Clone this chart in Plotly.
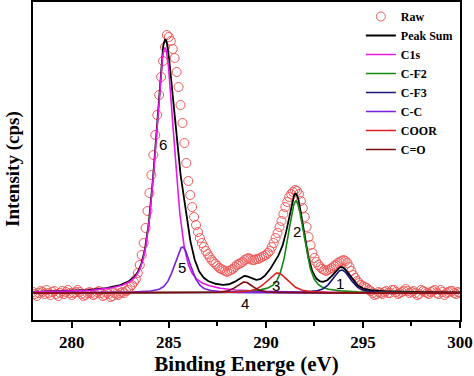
import numpy as np
import plotly.graph_objects as go

# ---- data (intensity in arbitrary cps units, baseline = 0) ----
raw_energy = [round(278.0 + 0.1 * i, 1) for i in range(221)]
raw_intensity = [
    1, -1, -3, 0, 2, 1, -1, 3, 0, -2,            # 278.0
    1, 2, -1, -3, 0, 2, -1, 1, 3, 0,             # 279.0
    -2, 0, 1, 3, 1, -1, -3, -2, 0, 1,            # 280.0
    0, -2, -1, 1, 2, 0, -3, -2, 0, -1,           # 281.0
    -4, -3, 0, -1, -2, 0, 1, 0, 2, 3,            # 282.0
    6, 8, 11, 14, 20, 28, 38, 50, 65, 82,        # 283.0
    100, 118, 138, 158, 178, 198, 216, 232, 246, 258,   # 284.0
    256, 252, 244, 235, 221, 206, 188, 170, 150, 130,   # 285.0
    112, 98, 86, 76, 68, 61, 55, 50, 46, 42,     # 286.0
    39, 36, 33, 31, 29, 27, 25, 24, 23, 22,      # 287.0
    21, 22, 23, 24, 26, 28, 29, 30, 31, 33,      # 288.0
    34, 35, 34, 33, 33, 34, 34, 35, 36, 37,      # 289.0
    38, 40, 42, 46, 50, 55, 60, 66, 72, 79,      # 290.0
    86, 91, 96, 99, 101, 103, 102, 99, 92, 85,   # 291.0
    76, 66, 56, 48, 40, 35, 31, 28, 26, 24,      # 292.0
    23, 22, 23, 24, 25, 27, 28, 30, 31, 32,      # 293.0
    33, 32, 30, 26, 22, 18, 15, 12, 10, 8,       # 294.0
    7, 6, 5, 3, 2, 0, -2, -1, 1, 0,              # 295.0
    -1, 1, 2, 0, 0, 3, 3, 1, -1, 0,              # 296.0
    1, 2, 4, 2, 0, 1, 2, 0, -2, -1,              # 297.0
    3, 2, 1, 0, -1, 1, 2, 3, 0, -1,              # 298.0
    3, 1, -2, 0, 1, 2, 2, 0, -1, 1,              # 299.0
    0,                                           # 300.0
]

peak_names = ["C1s", "C-F2", "C-F3", "C-C", "COOR", "C=O"]
peak_centers = [284.8, 291.55, 293.9, 285.7, 290.6, 288.9]
peak_heights = [245, 92, 23, 46, 20, 11]
peak_fwhm = [1.15, 1.0, 1.1, 1.0, 1.3, 1.0]
peak_colors = ["#e619e6", "#138a13", "#14147a", "#7a1fe0", "#e01f1f", "#7a0f0f"]

label_texts = ["6", "5", "4", "3", "2", "1"]
label_x = [284.7, 285.7, 288.93, 290.5, 291.6, 293.8]
label_y = [149, 26, -10, 8, 62, 10]

eta = 0.5  # Lorentzian fraction of the pseudo-Voigt fit


def pvoigt(x, c, h, w):
    lor = 1.0 / (1.0 + ((x - c) / (w / 2.0)) ** 2)
    gau = np.exp(-4.0 * np.log(2.0) * ((x - c) / w) ** 2)
    return h * (eta * lor + (1 - eta) * gau)


xs = np.linspace(278, 300, 881)
comps = [pvoigt(xs, c, h, w) for c, h, w in zip(peak_centers, peak_heights, peak_fwhm)]
peak_sum = np.sum(comps, axis=0)

FONT = "Liberation Serif"

fig = go.Figure()
fig.add_trace(go.Scatter(
    x=raw_energy, y=raw_intensity, mode="markers", name="Raw",
    marker=dict(symbol="circle-open", size=9, color="#f25a5a", line=dict(width=1, color="#f25a5a")),
))
fig.add_trace(go.Scatter(x=xs, y=peak_sum, mode="lines", name="Peak Sum",
                         line=dict(color="black", width=1.8)))
for name, comp, col in zip(peak_names, comps, peak_colors):
    fig.add_trace(go.Scatter(x=xs, y=comp, mode="lines", name=name,
                             line=dict(color=col, width=1.6)))

for t, x, y in zip(label_texts, label_x, label_y):
    fig.add_annotation(x=x, y=y, text=t, showarrow=False,
                       font=dict(family="Liberation Sans", size=15, color="black"))

# y-axis title placed as a rotated annotation to match the reference position
fig.add_annotation(xref="paper", yref="paper", x=-0.047, y=0.475, text="Intensity (cps)",
                   textangle=-90, showarrow=False, xanchor="center", yanchor="middle",
                   font=dict(family=FONT, size=19, color="black", weight=700))

fig.update_layout(
    width=474, height=376,
    margin=dict(l=33, r=14, t=2, b=56),
    plot_bgcolor="white", paper_bgcolor="white",
    showlegend=True,
    legend=dict(x=0.995, y=1.0, xanchor="right", yanchor="top",
                bgcolor="rgba(0,0,0,0)", borderwidth=0,
                font=dict(family=FONT, size=12, color="black", weight=700),
                itemwidth=30, tracegroupgap=0),
    xaxis=dict(
        range=[278, 300], showgrid=False, zeroline=False, automargin=False,
        showline=True, linecolor="black", linewidth=2, mirror=True,
        ticks="outside", tickwidth=1.5, ticklen=6, tickcolor="black",
        tickvals=[280, 285, 290, 295, 300],
        minor=dict(tickvals=[277.5, 282.5, 287.5, 292.5, 297.5], ticks="outside", ticklen=4, tickwidth=1.5, tickcolor="black"),
        tickfont=dict(family=FONT, size=17, color="black", weight=700),
        title=dict(text="Binding Energe (eV)", standoff=4,
                   font=dict(family=FONT, size=21, color="black", weight=700)),
    ),
    yaxis=dict(
        range=[-27, 291], showgrid=False, zeroline=False, automargin=False,
        showline=True, linecolor="black", linewidth=2, mirror=True,
        showticklabels=False, ticks="",
    ),
)

fig.write_html("out.html", config={"displayModeBar": False},
               post_script="document.body.style.margin='0';document.body.style.overflow='hidden';")
